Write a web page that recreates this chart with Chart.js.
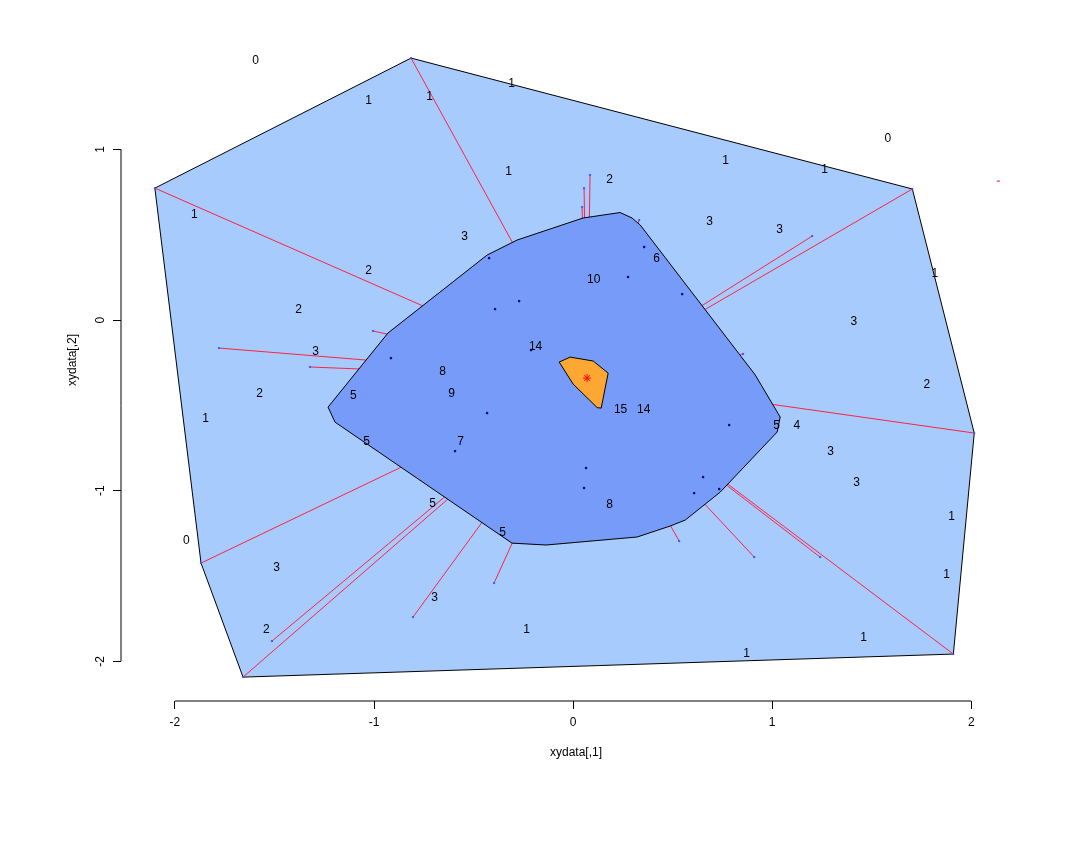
<!DOCTYPE html>
<html>
<head>
<meta charset="utf-8">
<title>bagplot</title>
<script src="https://cdn.jsdelivr.net/npm/chart.js@4/dist/chart.umd.min.js"></script>
<style>
body { margin: 0; background: #fff; }
canvas { display: block; }
</style>
</head>
<body>
<canvas id="bagChart" width="1091" height="856"></canvas>
<script>
const xTicks = [-2, -1, 0, 1, 2];
const yTicks = [-2, -1, 0, 1];

const hullX = [-0.814, 1.704, 2.015, 1.910, -1.658, -1.869, -2.101];
const hullY = [1.535, 0.768, -0.662, -1.957, -2.092, -1.424, 0.773];

const bagX = [0.236, 0.296, 0.337, 0.915, 1.040, 1.025, 0.739, 0.563, 0.487, 0.322, -0.136, -0.307, -1.196, -1.231, -0.930, -0.432, -0.281, 0.050];
const bagY = [0.630, 0.598, 0.557, -0.322, -0.568, -0.656, -1.008, -1.172, -1.207, -1.271, -1.318, -1.307, -0.598, -0.510, -0.076, 0.381, 0.469, 0.598];

const medianX = [-0.070, -0.015, 0.101, 0.176, 0.141, 0.121, 0];
const medianY = [-0.246, -0.217, -0.240, -0.311, -0.516, -0.513, -0.375];

const centerX = 0.070;
const centerY = -0.340;

// points between bag and fence, the first seven are the hull corners
const loopX = [-0.814, 1.704, 2.015, 1.910, -1.658, -1.869, -2.101, 0.085, 0.055, 0.045, 0.332, 1.201, 0.854, 1.241, 0.910, 0.533, -0.397, -0.804, -1.513, -1.779, -1.322, -1.005];
const loopY = [1.535, 0.768, -0.662, -1.957, -2.092, -1.424, 0.773, 0.850, 0.773, 0.662, 0.586, 0.492, -0.199, -1.389, -1.389, -1.295, -1.541, -1.740, -1.881, -0.164, -0.275, -0.064];

const bagPointsX = [0.357, 0.276, 0.548, -0.422, -0.271, -0.392, -0.915, -0.211, -0.432, -0.593, 0.065, 0.055, 0.784, 0.653, 0.608, 0.734];
const bagPointsY = [0.428, 0.252, 0.152, 0.363, 0.111, 0.064, -0.223, -0.176, -0.545, -0.768, -0.867, -0.984, -0.615, -0.920, -1.014, -0.990];

const outlierX = [2.136];
const outlierY = [0.814];

// depth numbers written on the plot
const depthText = ['0', '1', '1', '1', '1', '2', '1', '1', '0', '3', '3', '3', '6', '1', '2', '10', '1', '2', '3', '3', '14', '8', '2', '2', '9', '5', '15', '14', '1', '5', '4', '5', '7', '3', '3', '5', '8', '1', '5', '0', '3', '1', '3', '2', '1', '1', '1'];
const depthX = [-1.598, -1.030, -0.724, -0.312, -0.327, 0.181, 0.764, 1.261, 1.578, 0.683, 1.035, -0.548, 0.417, -1.905, -1.030, 0.101, 1.814, -1.382, 1.407, -1.296, -0.191, -0.658, 1.774, -1.578, -0.613, -1.106, 0.236, 0.352, -1.849, 1.020, 1.121, -1.040, -0.568, 1.291, 1.422, -0.709, 0.181, 1.899, -0.357, -1.945, -1.492, 1.874, -0.698, -1.543, -0.236, 1.457, 0.869];
const depthY = [1.523, 1.289, 1.312, 1.389, 0.873, 0.826, 0.937, 0.885, 1.066, 0.580, 0.533, 0.492, 0.363, 0.621, 0.293, 0.240, 0.275, 0.064, -0.006, -0.182, -0.152, -0.299, -0.375, -0.428, -0.428, -0.439, -0.521, -0.521, -0.574, -0.615, -0.615, -0.709, -0.709, -0.768, -0.949, -1.072, -1.078, -1.148, -1.242, -1.289, -1.447, -1.488, -1.623, -1.811, -1.811, -1.857, -1.951];

const FONT = '"Liberation Sans", Arial, sans-serif';

function aPuntos(xs, ys) {
    return xs.map((x, i) => ({ x: x, y: ys[i] }));
}

function poligono(xs, ys, relleno) {
    const pts = aPuntos(xs, ys);
    pts.push(pts[0]);
    return {
        data: pts,
        showLine: true,
        fill: 'shape',
        backgroundColor: relleno,
        borderColor: '#000',
        borderWidth: 1,
        pointRadius: 0
    };
}

function puntos(xs, ys, color, estilo, radio) {
    return {
        data: aPuntos(xs, ys),
        showLine: false,
        pointStyle: estilo,
        pointRadius: radio,
        pointBorderColor: color,
        pointBackgroundColor: color,
        pointBorderWidth: 1
    };
}

// every whisker runs from the center to a loop point, the bag hides the inner part
const bigotes = [];
loopX.forEach((x, i) => {
    bigotes.push({ x: centerX, y: centerY });
    bigotes.push({ x: x, y: loopY[i] });
    bigotes.push({ x: x, y: null });
});

const extras = {
    id: 'extras',
    afterDraw(chart) {
        const { ctx, scales } = chart;
        const sx = scales.x;
        const sy = scales.y;
        ctx.save();
        ctx.strokeStyle = '#000';
        ctx.lineWidth = 1;
        ctx.beginPath();
        ctx.moveTo(sx.left, sy.getPixelForValue(yTicks[0]));
        ctx.lineTo(sx.left, sy.getPixelForValue(yTicks[yTicks.length - 1]));
        ctx.moveTo(sx.getPixelForValue(xTicks[0]), sy.bottom);
        ctx.lineTo(sx.getPixelForValue(xTicks[xTicks.length - 1]), sy.bottom);
        ctx.stroke();

        ctx.fillStyle = '#000';
        ctx.font = '12px ' + FONT;
        ctx.textAlign = 'center';
        ctx.textBaseline = 'middle';
        depthText.forEach((t, i) => {
            ctx.fillText(t, sx.getPixelForValue(depthX[i]) + 0.5, sy.getPixelForValue(depthY[i]) + 1);
        });
        ctx.restore();
    }
};

new Chart(document.getElementById('bagChart'), {
    type: 'scatter',
    data: {
        // first dataset is painted last
        datasets: [
            puntos([centerX], [centerY], '#ff0000', 'star', 4),
            puntos(bagPointsX, bagPointsY, '#000088', 'rect', 1),
            poligono(medianX, medianY, '#ffa733'),
            poligono(bagX, bagY, '#779bf8'),
            puntos(loopX, loopY, '#3355ff', 'rect', 0.8),
            puntos(outlierX, outlierY, '#ff0000', 'line', 1.5),
            {
                data: bigotes,
                showLine: true,
                spanGaps: false,
                borderColor: '#ff2244',
                borderWidth: 1,
                pointRadius: 0
            },
            poligono(hullX, hullY, '#a7cbfc')
        ]
    },
    options: {
        responsive: false,
        animation: false,
        events: [],
        layout: { padding: { left: 65, right: 60, top: 19, bottom: 96 } },
        plugins: { legend: { display: false }, tooltip: { enabled: false } },
        scales: {
            x: {
                type: 'linear',
                min: -2.271,
                max: 2.3,
                afterBuildTicks: s => { s.ticks = xTicks.map(v => ({ value: v })); },
                afterFit: s => { s.height = 59; },
                border: { display: false },
                grid: { drawOnChartArea: false, drawTicks: true, tickLength: 8, tickColor: '#000', tickWidth: 1 },
                ticks: { color: '#000', font: { family: FONT, size: 12 }, padding: 6, maxRotation: 0 },
                title: { display: true, text: 'xydata[,1]', color: '#000', font: { family: FONT, size: 12 }, padding: 0 }
            },
            y: {
                type: 'linear',
                min: -2.232,
                max: 1.764,
                afterBuildTicks: s => { s.ticks = yTicks.map(v => ({ value: v })); },
                afterFit: s => { s.width = 56; },
                border: { display: false },
                grid: { drawOnChartArea: false, drawTicks: true, tickLength: 8, tickColor: '#000', tickWidth: 1 },
                ticks: { color: '#000', font: { family: FONT, size: 12 }, padding: 7, minRotation: 90, maxRotation: 90, crossAlign: 'center' },
                title: { display: true, text: 'xydata[,2]', color: '#000', font: { family: FONT, size: 12 }, padding: 0 }
            }
        }
    },
    plugins: [extras]
});
</script>
</body>
</html>
